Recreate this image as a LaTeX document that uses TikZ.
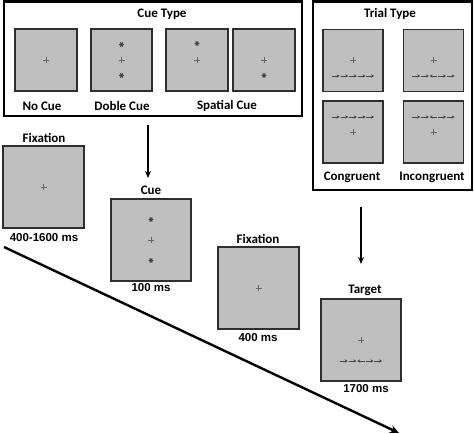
\documentclass[tikz,border=0pt]{standalone}
\usepackage{fontspec}
\setmainfont{Carlito}
\newfontfamily\timefont{Liberation Sans}
\usetikzlibrary{arrows.meta}
\definecolor{scr}{HTML}{BFBFBF}
\definecolor{scredge}{HTML}{2E2E2E}
\definecolor{mark}{HTML}{666666}
\definecolor{flk}{HTML}{454545}
\tikzset{
  screen/.style={draw=scredge, fill=scr, line width=1.3bp, inner sep=0pt, minimum width=#1, minimum height=62bp},
  screen/.default=62bp,
  bigscreen/.style={draw=scredge, fill=scr, line width=1.5bp, inner sep=0pt, minimum width=80bp, minimum height=82bp},
  frame/.style={draw=black, line width=2.5bp, inner sep=0pt},
  lab/.style={font=\fontsize{13bp}{15bp}\selectfont\bfseries, inner sep=0pt},
  tlab/.style={font=\timefont\fontsize{11.5bp}{13bp}\selectfont\bfseries, inner sep=0pt},
  flow/.style={draw=black, line width=1.8bp, -{Stealth[length=7bp,width=6bp]}},
  timeline/.style={draw=black, line width=2.4bp, -{Stealth[length=9bp,width=8bp]}},
  plusmark/.style={draw=mark, line width=0.8bp},
  astmark/.style={draw=flk, line width=1.1bp},
  flkarrow/.style={draw=flk, line width=0.9bp, -{Stealth[length=3bp,width=3.2bp]}}
}
\newcommand{\plusat}[2]{\draw[plusmark] (#1-3,#2) -- (#1+3,#2) (#1,#2-3) -- (#1,#2+3);}
\newcommand{\astat}[2]{\draw[astmark] (#1-2.4,#2) -- (#1+2.4,#2) (#1-1.2,#2-2.1) -- (#1+1.2,#2+2.1) (#1-1.2,#2+2.1) -- (#1+1.2,#2-2.1);}
% one small arrow: centre x, y, sign (+ right, - left)
\newcommand{\rightflk}[2]{\draw[flkarrow] (#1-3.9,#2) -- (#1+3.9,#2);}
\newcommand{\leftflk}[2]{\draw[flkarrow] (#1+3.9,#2) -- (#1-3.9,#2);}
\newcommand{\congrow}[2]{\rightflk{#1-17.2}{#2}\rightflk{#1-8.6}{#2}\rightflk{#1}{#2}\rightflk{#1+8.6}{#2}\rightflk{#1+17.2}{#2}}
\newcommand{\incongrow}[2]{\rightflk{#1-17.2}{#2}\rightflk{#1-8.6}{#2}\leftflk{#1}{#2}\rightflk{#1+8.6}{#2}\rightflk{#1+17.2}{#2}}
\begin{document}
\begin{tikzpicture}[x=1bp,y=-1bp]
\useasboundingbox (0,0) rectangle (474,434);
% Cue type frame
\draw[frame] (4,1.5) rectangle (302,116);
\node[lab] (cuetype) at (162,14) {Cue Type};
\node[screen] (nocue) at (46,60) {};
\node[screen=61bp] (doble) at (121.5,60) {};
\node[screen] (sp1) at (197,60) {};
\node[screen] (sp2) at (264,60) {};
\plusat{46}{60}
\astat{121.5}{44.5}\plusat{121.5}{60}\astat{121.5}{75.5}
\astat{197}{43.5}\plusat{197}{60}
\plusat{264}{60}\astat{264}{75.5}
\node[lab] (lnocue) at (42,106) {No Cue};
\node[lab] (ldoble) at (122,106) {Doble Cue};
\node[lab] (lspatial) at (227,106) {Spatial Cue};
% Trial type frame
\draw[frame] (313,1.5) rectangle (472,190);
\node[lab] (trialtype) at (390,14) {Trial Type};
\node[screen=60bp] (cong1) at (353,60.5) {};
\node[screen=60bp] (incong1) at (433.5,60.5) {};
\node[screen=60bp] (cong2) at (353,132) {};
\node[screen=60bp] (incong2) at (433.5,132) {};
\plusat{353}{60.5}\congrow{353}{76}
\plusat{433.5}{60.5}\incongrow{433.5}{76}
\congrow{353}{117}\plusat{353}{132}
\incongrow{433.5}{117}\plusat{433.5}{132}
\node[lab] (lcong) at (352,177) {Congruent};
\node[lab] (lincong) at (432,177) {Incongruent};
% sequence
\node[lab] (lfix1) at (44,137.5) {Fixation};
\node[bigscreen, minimum width=81bp] (fix1) at (43.5,187) {};
\plusat{43.5}{187}
\node[tlab] (tfix1) at (44,237.5) {400-1600 ms};
\node[lab] (lcue) at (151,190) {Cue};
\node[bigscreen] (cue) at (151,240) {};
\astat{151}{219.5}\plusat{151}{240}\astat{151}{260.5}
\node[tlab] (tcue) at (151,287.5) {100 ms};
\node[lab] (lfix2) at (258,238.5) {Fixation};
\node[bigscreen, minimum width=81bp] (fix2) at (258.5,288) {};
\plusat{258.5}{288}
\node[tlab] (tfix2) at (258,337.5) {400 ms};
\node[lab] (ltarget) at (365,290.5) {Target};
\node[bigscreen] (target) at (361,340) {};
\plusat{361}{340}\incongrow{361}{361}
\node[tlab] (ttarget) at (366,388.5) {1700 ms};
% connectors
\coordinate (a1s) at (148,125);
\coordinate (a1e) at (148,178);
\draw[flow] (a1s) -- (a1e);
\coordinate (a2s) at (361,207);
\coordinate (a2e) at (361,264);
\draw[flow] (a2s) -- (a2e);
\coordinate (ts) at (4,247);
\coordinate (te) at (399,433);
\draw[timeline] (ts) -- (te);
\end{tikzpicture}
\end{document}
